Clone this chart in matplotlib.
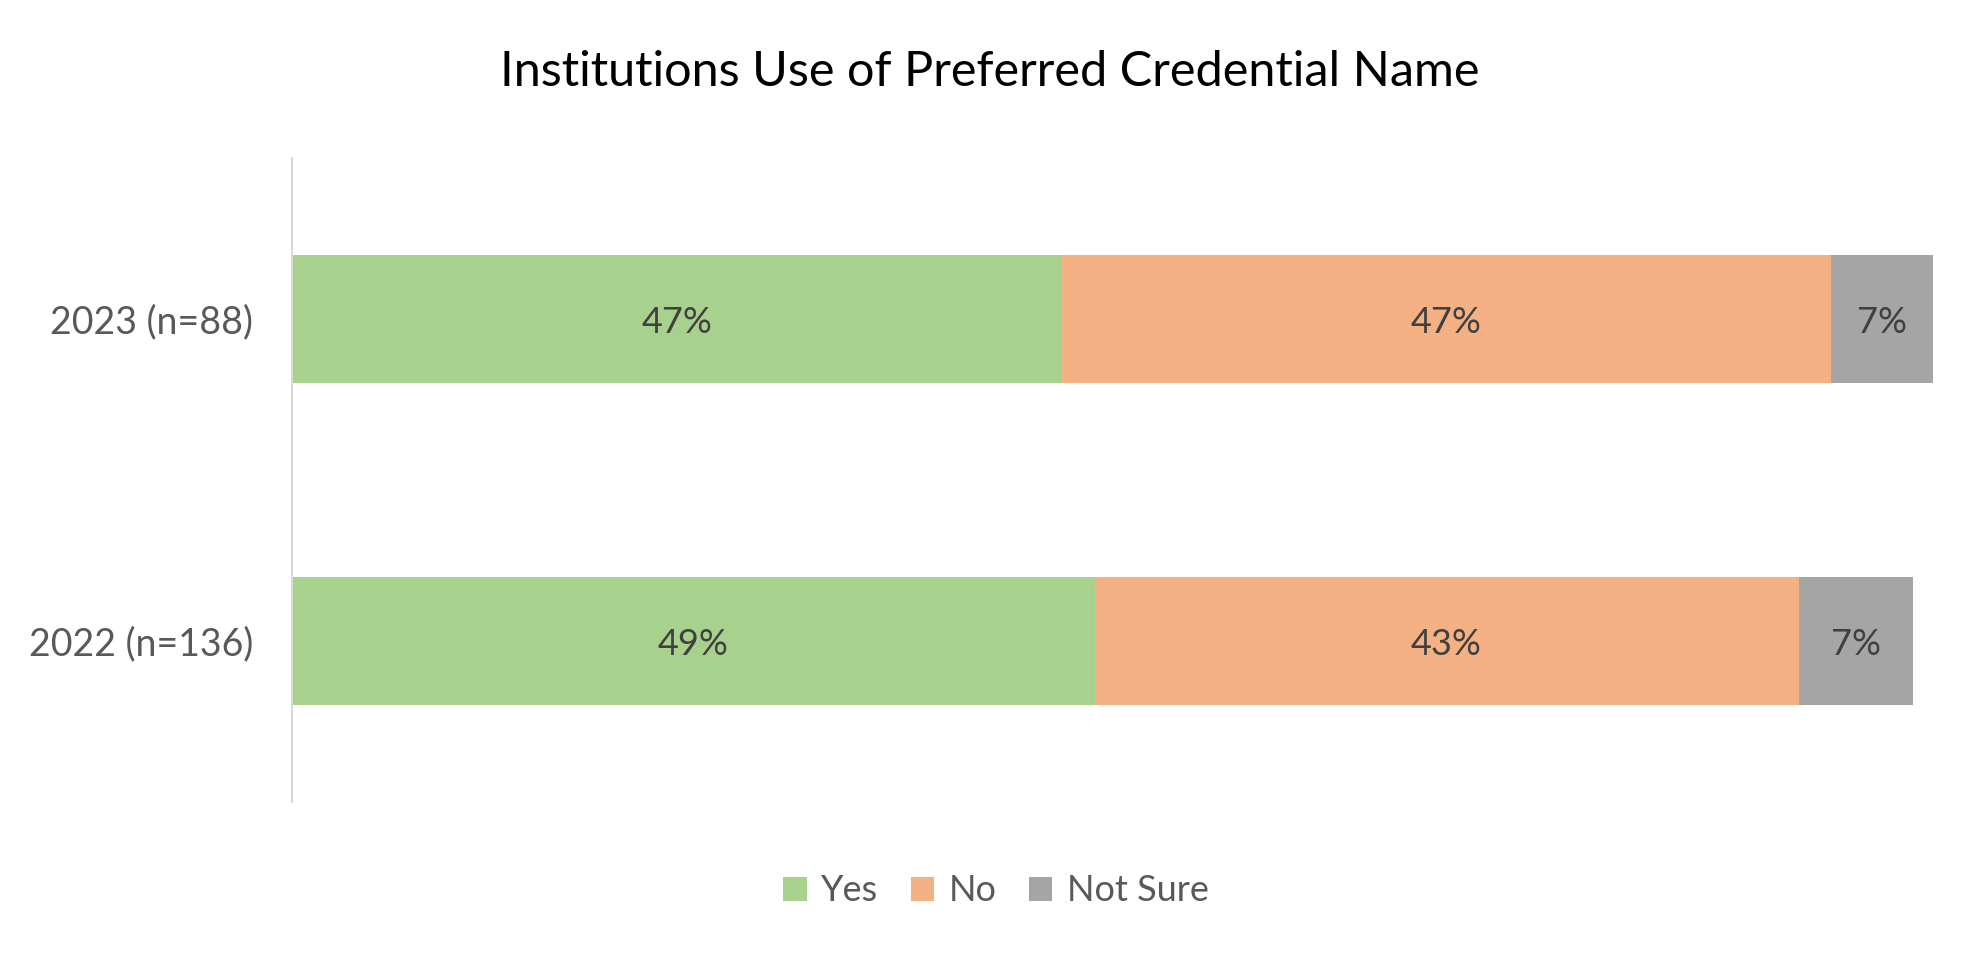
import numpy as np
import matplotlib
matplotlib.use("Agg")
import matplotlib.pyplot as plt

plt.rcParams['font.family'] = ['Lato', 'DejaVu Sans']

# data
categories = ['2023 (n=88)', '2022 (n=136)']
series = ['Yes', 'No', 'Not Sure']
yes_vals = [46.9, 48.9]
no_vals = [46.9, 42.9]
notsure_vals = [6.2, 7.0]
yes_labels = ['47%', '49%']
no_labels = ['47%', '43%']
notsure_labels = ['7%', '7%']

colors = ['#A9D18E', '#F4B183', '#A5A5A5']

fig = plt.figure(figsize=(19.8, 9.59), dpi=100)
ax = fig.add_axes([0.1475, 0.1637, 0.8288, 0.6715])

y = np.arange(len(categories))
left = np.zeros(len(categories))
all_vals = [yes_vals, no_vals, notsure_vals]
all_labels = [yes_labels, no_labels, notsure_labels]
for name, vals, labs, c in zip(series, all_vals, all_labels, colors):
    bars = ax.barh(y, vals, left=left, height=0.4, color=c, label=name)
    for b, lab in zip(bars, labs):
        ax.text(b.get_x() + b.get_width() / 2, b.get_y() + b.get_height() / 2 + 0.01, lab,
                ha='center', va='center', fontsize=26, color='#404040')
    left = left + np.array(vals)

ax.set_xlim(0, 100)
ax.set_ylim(1.5, -0.5)
ax.set_yticks(y)
ax.set_yticklabels(categories, fontsize=27, color='#595959')
ax.tick_params(axis='y', length=0, pad=28)
ax.set_xticks([])
for s in ['top', 'right', 'bottom']:
    ax.spines[s].set_visible(False)
ax.spines['left'].set_color('#D9D9D9')
ax.spines['left'].set_linewidth(1.5)

fig.suptitle('Institutions Use of Preferred Credential Name', fontsize=35,
             y=0.925, va='center', color='black')

leg = fig.legend(loc='center', bbox_to_anchor=(0.503, 0.071), ncol=3, frameon=False,
                 fontsize=26, handlelength=0.65, handleheight=0.65, columnspacing=0.9,
                 handletextpad=0.4)
for t in leg.get_texts():
    t.set_color('#595959')

fig.savefig('out.png', dpi=100)
